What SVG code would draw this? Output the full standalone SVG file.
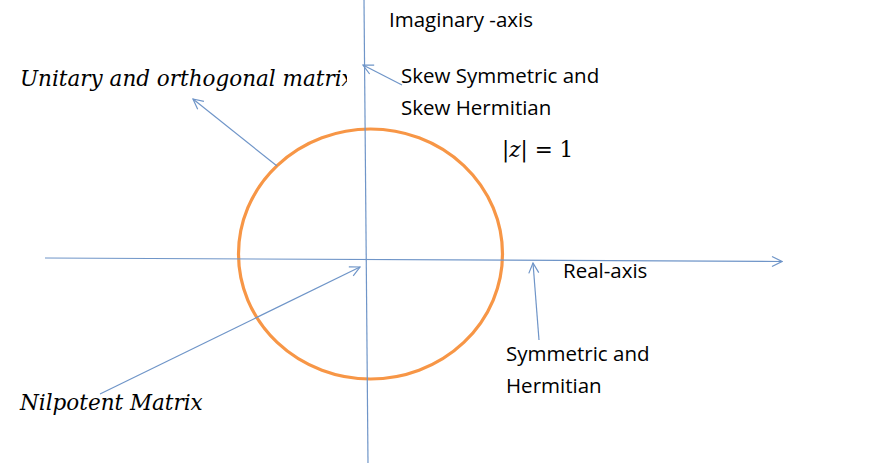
<svg xmlns="http://www.w3.org/2000/svg" width="883" height="463" viewBox="0 0 883 463">
<style>
.ln{stroke:#6F95C8;stroke-width:1.2;fill:none}
.sans{font-family:"Open Sans","Liberation Sans",sans-serif;font-size:20.5px;fill:#000}
.ital{font-family:"DejaVu Serif","Liberation Serif",serif;font-style:italic;font-size:21.5px;fill:#000}
</style>
<defs>
<marker id="ah" viewBox="0 0 12 12" refX="11" refY="6" markerWidth="12" markerHeight="12" markerUnits="userSpaceOnUse" orient="auto">
<path d="M1,1 L11,6 L1,11" fill="none" stroke="#6F95C8" stroke-width="1.2"/>
</marker>
<clipPath id="clipU"><rect x="0" y="60" width="347" height="40"/></clipPath>
</defs>
<rect width="883" height="463" fill="#fff"/>
<g id="circle">
<ellipse cx="370.5" cy="254" rx="132" ry="125" fill="none" stroke="#F79646" stroke-width="3.2"/>
</g>
<g id="connectors">
<line class="ln" x1="364" y1="0" x2="368" y2="463"/>
<line class="ln" x1="45" y1="258" x2="782" y2="261.5" marker-end="url(#ah)"/>
<line class="ln" x1="277" y1="166" x2="193" y2="99" marker-end="url(#ah)"/>
<line class="ln" x1="402" y1="85" x2="363" y2="65" marker-end="url(#ah)"/>
<line class="ln" x1="100" y1="394" x2="360" y2="267" marker-end="url(#ah)"/>
<line class="ln" x1="539" y1="340" x2="533" y2="263" marker-end="url(#ah)"/>
</g>
<g id="imag-label"><text class="sans" x="389" y="27">Imaginary -axis</text></g>
<g id="skew-label">
<text class="sans" x="401" y="83">Skew Symmetric and</text>
<text class="sans" x="401" y="115">Skew Hermitian</text>
</g>
<g id="z-label"><text class="ital" x="502" y="157" style="font-style:normal">|<tspan font-style="italic">z</tspan>| = 1</text></g>
<g id="unitary-label"><text class="ital" x="20" y="86" clip-path="url(#clipU)">Unitary and orthogonal matrix</text></g>
<g id="real-label"><text class="sans" x="563" y="278">Real-axis</text></g>
<g id="sym-label">
<text class="sans" x="506" y="361">Symmetric and</text>
<text class="sans" x="506" y="393">Hermitian</text>
</g>
<g id="nil-label"><text class="ital" x="20" y="410">Nilpotent Matrix</text></g>
</svg>
